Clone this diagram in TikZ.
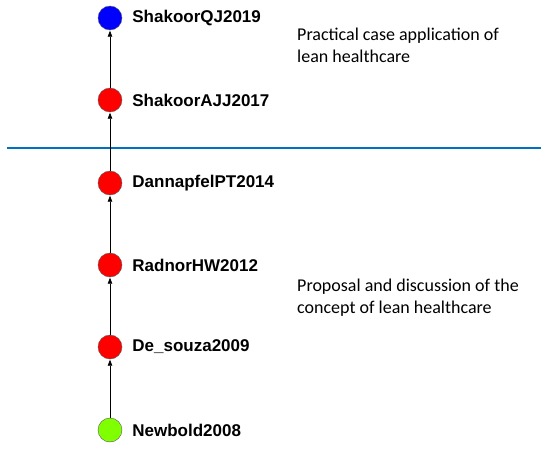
\documentclass[tikz,border=0pt]{standalone}
\usepackage{fontspec}
\setmainfont{Liberation Sans}
\newfontfamily\notefont{Carlito}
\usetikzlibrary{arrows.meta}
\tikzset{
  paper/.style={circle, draw=gray!70!black, line width=0.4pt, minimum size=24pt, inner sep=0pt},
  paperlabel/.style={right, font=\fontsize{17}{20}\selectfont\bfseries, inner sep=0pt, xshift=10pt},
  cite/.style={-{Triangle[length=6pt,width=4.5pt]}, black, line width=0.6pt, shorten >=0.5pt},
  note/.style={anchor=north west, align=left, font=\notefont\fontsize{18}{22}\selectfont, inner sep=0pt}
}
\begin{document}
\begin{tikzpicture}[x=1pt, y=-1pt]
    \useasboundingbox (0,0) rectangle (550,450);

    % Linea divisoria
    \coordinate (divL) at (7,148);
    \coordinate (divR) at (541,148);
    \draw[line width=1.6pt, color={rgb,255:red,0;green,112;blue,192}] (divL) -- (divR);

    % Articulos (de abajo hacia arriba)
    \node[paper, fill={rgb,255:red,128;green,255;blue,0}] (newbold) at (110,430) {};
    \node[paperlabel] at (newbold.east) {Newbold2008};
    \node[paper, fill=red] (desouza) at (110,347) {};
    \node[paperlabel] at (desouza.east) {De\_souza2009};
    \node[paper, fill=red] (radnor) at (110,265) {};
    \node[paperlabel] at (radnor.east) {RadnorHW2012};
    \node[paper, fill=red] (dannapfel) at (110,183) {};
    \node[paperlabel] at (dannapfel.east) {DannapfelPT2014};
    \node[paper, fill=red] (shakoorA) at (110,100) {};
    \node[paperlabel] at (shakoorA.east) {ShakoorAJJ2017};
    \node[paper, fill=blue] (shakoorQ) at (110,18) {};
    \node[paperlabel] at (shakoorQ.east) {ShakoorQJ2019};

    % Citas
    \draw[cite] (newbold) -- (desouza);
    \draw[cite] (desouza) -- (radnor);
    \draw[cite] (radnor) -- (dannapfel);
    \draw[cite] (dannapfel) -- (shakoorA);
    \draw[cite] (shakoorA) -- (shakoorQ);

    % Descripciones
    \node[note] (practice) at (297,28) {Practical case application of\\lean healthcare};
    \node[note] (concept) at (297,279) {Proposal and discussion of the\\concept of lean healthcare};
\end{tikzpicture}
\end{document}
